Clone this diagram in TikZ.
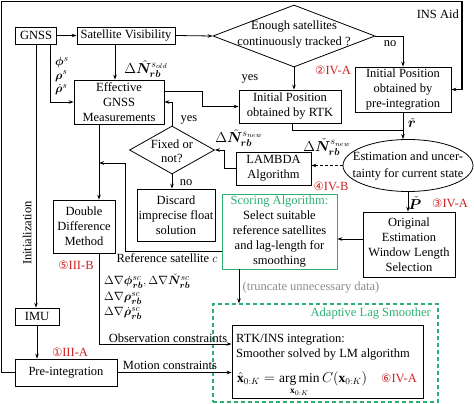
\documentclass[tikz,border=0pt]{standalone}
\usepackage{amsmath}
\usepackage{bm}
\usepackage{fontspec}
\setmainfont{Liberation Serif}
\newfontfamily\dv{DejaVu Sans}
\usetikzlibrary{shapes.geometric,arrows.meta,calc}
\definecolor{myred}{RGB}{205,35,35}
\definecolor{mygreen}{RGB}{45,175,115}
\definecolor{mygray}{RGB}{140,140,140}
\newcommand{\cnum}[1]{{\dv\fontsize{11.5}{13}\selectfont #1}}
\newcommand{\tightlines}{\lineskiplimit=-20pt\relax}
\begin{document}
\begin{tikzpicture}[x=1pt,y=-1pt,
  every node/.style={font=\fontsize{12.5}{15}\selectfont},
  box/.style={draw,line width=0.8pt,inner sep=0pt,align=center},
  ln/.style={line width=0.8pt},
  arr/.style={line width=0.8pt,-{Stealth[length=5pt,width=3.6pt]}},
  lab/.style={inner sep=0pt},
  mlab/.style={inner sep=0pt,font=\fontsize{14}{16}\selectfont},
  rlab/.style={inner sep=0pt,text=myred}]
\useasboundingbox (0,0) rectangle (474,404);
% boxes
\node[box,minimum width=41pt,minimum height=17pt] (gnss) at (36,35.5) {GNSS};
\node[box,minimum width=98pt,minimum height=17pt] (sv) at (126,35.5) {Satellite Visibility};
\node[draw,line width=0.8pt,diamond,minimum width=162pt,minimum height=62pt,inner sep=0pt] (enough) at (294,36) {};
\node[lab,align=center,font=\fontsize{12.5}{16}\selectfont] (enoughtxt) at (294,35) {Enough satellites\\continuously tracked ?};
\node[box,minimum width=102pt,minimum height=33pt] (rtk) at (290,106.5) {Initial Position\\obtained by RTK};
\node[box,minimum width=96pt,minimum height=45pt] (prei) at (403,89.5) {Initial Position\\obtained by\\pre-integration};
\node[box,minimum width=90pt,minimum height=44pt] (eff) at (119,102) {Effective\\GNSS\\Measurements};
\node[draw,line width=0.8pt,ellipse,minimum width=130pt,minimum height=52pt,inner sep=0pt] (est) at (408,165.5) {};
\node[lab,align=center,font=\fontsize{12.5}{17}\selectfont] (esttxt) at (408,166) {Estimation and uncer-\\tainty for current state};
\node[box,minimum width=75pt,minimum height=33pt] (lambda) at (273.5,168.5) {LAMBDA\\Algorithm};
\node[draw,line width=0.8pt,diamond,minimum width=85pt,minimum height=48pt,inner sep=0pt] (fixed) at (172,150) {};
\node[lab,align=center,font=\fontsize{12.5}{14}\selectfont] (fixedtxt) at (172,151) {Fixed or\\not?};
\node[box,minimum width=78pt,minimum height=52pt] (discard) at (176,215) {Discard\\imprecise float\\solution};
\node[box,minimum width=62pt,minimum height=53pt] (dd) at (84,226.5) {Double\\Difference\\Method};
\node[box,draw=mygreen,minimum width=115pt,minimum height=75pt] (scoring) at (279.5,231.5) {\textcolor{mygreen}{Scoring Algorithm:}\\Select suitable\\reference satellites\\and lag-length for\\smoothing};
\node[box,minimum width=92pt,minimum height=65pt] (orig) at (409,244.5) {Original\\Estimation\\Window Length\\Selection};
\node[box,minimum width=44pt,minimum height=17pt] (imu) at (37,316.5) {IMU};
\node[box,minimum width=102pt,minimum height=27pt] (prein) at (66,372.5) {Pre-integration};
\node[draw=mygreen,line width=1.2pt,dash pattern=on 4pt off 3pt,minimum width=225pt,minimum height=98pt,inner sep=0pt] (als) at (325.5,353) {};
\node[box,minimum width=191pt,minimum height=73pt] (rtkins) at (327.5,361.5) {};
\node[lab,anchor=west,align=left] (rtkinstxt) at (236,347.5) {RTK/INS integration:\\Smoother solved by LM algorithm};
\node[lab,anchor=base west,font=\fontsize{13.5}{15}\selectfont] (formula) at (237,382) {$\hat{\mathbf{x}}_{0:K}=\mathop{\mathrm{arg\,min}}\limits_{\mathbf{x}_{0:K}} C(\mathbf{x}_{0:K})$};
% connectors
\coordinate (tl) at (1.5,1.5);
\coordinate (tr) at (462,1.5);
\coordinate (rj) at (403,130);
\coordinate (rs) at (125,251);
\coordinate (rt) at (99,163);
\draw[arr] (gnss.east) -- (sv.west);
\draw[arr] (sv.east) -- (enough.west);
\draw[arr] (enough.south) -- (enough.south |- rtk.north);
\draw[arr] (enough.east) -| (prei.north);
\draw[arr,line width=1.3pt] (prein.west) -| (tl) -- (tr) |- (prei.east);
\draw[arr] (gnss.south) -- (gnss.south |- imu.north);
\draw[arr] (imu.south) -- (imu.south |- prein.north);
\draw[arr] ([xshift=14pt]gnss.south) |- (eff.west);
\draw[arr] ([xshift=-11pt]sv.south) -- ([xshift=-11pt]sv.south |- eff.north);
\draw[arr] ([yshift=11pt]eff.east) -- ++(38,0) |- (rtk.west);
\draw[ln] ([xshift=2pt]rtk.south) |- (rj);
\draw[arr] (prei.south) -- (prei.south |- est.north);
\draw[arr,dash pattern=on 3pt off 2pt] (est.west) -- (est.west -| lambda.east);
\draw[arr] (lambda.west) -- ++(-11,0) |- (fixed.east);
\draw[arr] (fixed.north) |- (eff.east);
\draw[arr] (fixed.south) -- (fixed.south |- discard.north);
\draw[arr] ([xshift=-20pt]eff.south) -- ([xshift=-20pt]eff.south |- dd.north);
\draw[arr] (scoring.west |- rs) -- (rs) |- (rt);
\draw[arr] (est.south) -- (est.south |- orig.north);
\draw[arr] ([yshift=5.5pt]orig.west) -- ([yshift=5.5pt]orig.west -| scoring.east);
\draw[arr] ([xshift=-40.5pt]scoring.south) -- ([xshift=-40.5pt]scoring.south |- als.north);
\draw[arr] ([xshift=15pt]dd.south) |- ([yshift=17.5pt]rtkins.west);
\draw[arr] (prein.east) -- (prein.east -| rtkins.west);
% labels
\node[lab] (l1) at (250,79) {yes};
\node[lab] (l2) at (390,44) {no};
\node[rlab] (l3) at (333,70) {\cnum{②}IV-A};
\node[lab,anchor=east] (l4) at (459,14) {INS Aid};
\node[mlab,anchor=west,align=left,font={\fontsize{13}{13.5}\selectfont\tightlines}] (l5) at (55,76) {$\bm{\phi}^s$\\$\bm{\rho}^s$\\$\dot{\bm{\rho}}^s$};
\node[mlab] (l8) at (146,69) {$\Delta\hat{\bm N}_{\bm{rb}}^{s_{old}}$};
\node[lab] (l9) at (189,120) {yes};
\node[lab] (l10) at (186,183) {no};
\node[mlab] (l11) at (239,138) {$\Delta\hat{\bm N}_{\bm{rb}}^{s_{new}}$};
\node[mlab] (l12) at (327,147) {$\Delta\check{\bm N}_{\bm{rb}}^{s_{new}}$};
\node[mlab] (l13) at (412,123) {$\check{\bm r}$};
\node[rlab] (l14) at (331,186) {\cnum{④}IV-B};
\node[mlab] (l15) at (415,203) {$\check{\bm P}$};
\node[rlab] (l16) at (450,203) {\cnum{③}IV-A};
\node[lab,rotate=90] (l17) at (27,233) {Initialization};
\node[rlab] (l18) at (76,265) {\cnum{⑤}III-B};
\node[lab] (l19) at (167,258) {Reference satellite $c$};
\node[mlab,anchor=west,align=left,font={\fontsize{12.5}{15.5}\selectfont\tightlines}] (l20) at (104,297) {$\Delta\nabla\bm{\phi}_{\bm{rb}}^{sc},\Delta\nabla\check{\bm N}_{\bm{rb}}^{sc}$\\$\Delta\nabla\bm{\rho}_{\bm{rb}}^{sc}$\\$\Delta\nabla\dot{\bm{\rho}}_{\bm{rb}}^{sc}$};
\node[lab,text=mygray] (l23) at (311,288) {(truncate unnecessary data)};
\node[lab,text=mygreen,anchor=east] (l24) at (431,314) {Adaptive Lag Smoother};
\node[lab] (l25) at (168,338) {Observation constraints};
\node[lab] (l26) at (170,365) {Motion constraints};
\node[rlab] (l27) at (70,352) {\cnum{①}III-A};
\node[rlab] (l28) at (399,378) {\cnum{⑥}IV-A};
\end{tikzpicture}
\end{document}
